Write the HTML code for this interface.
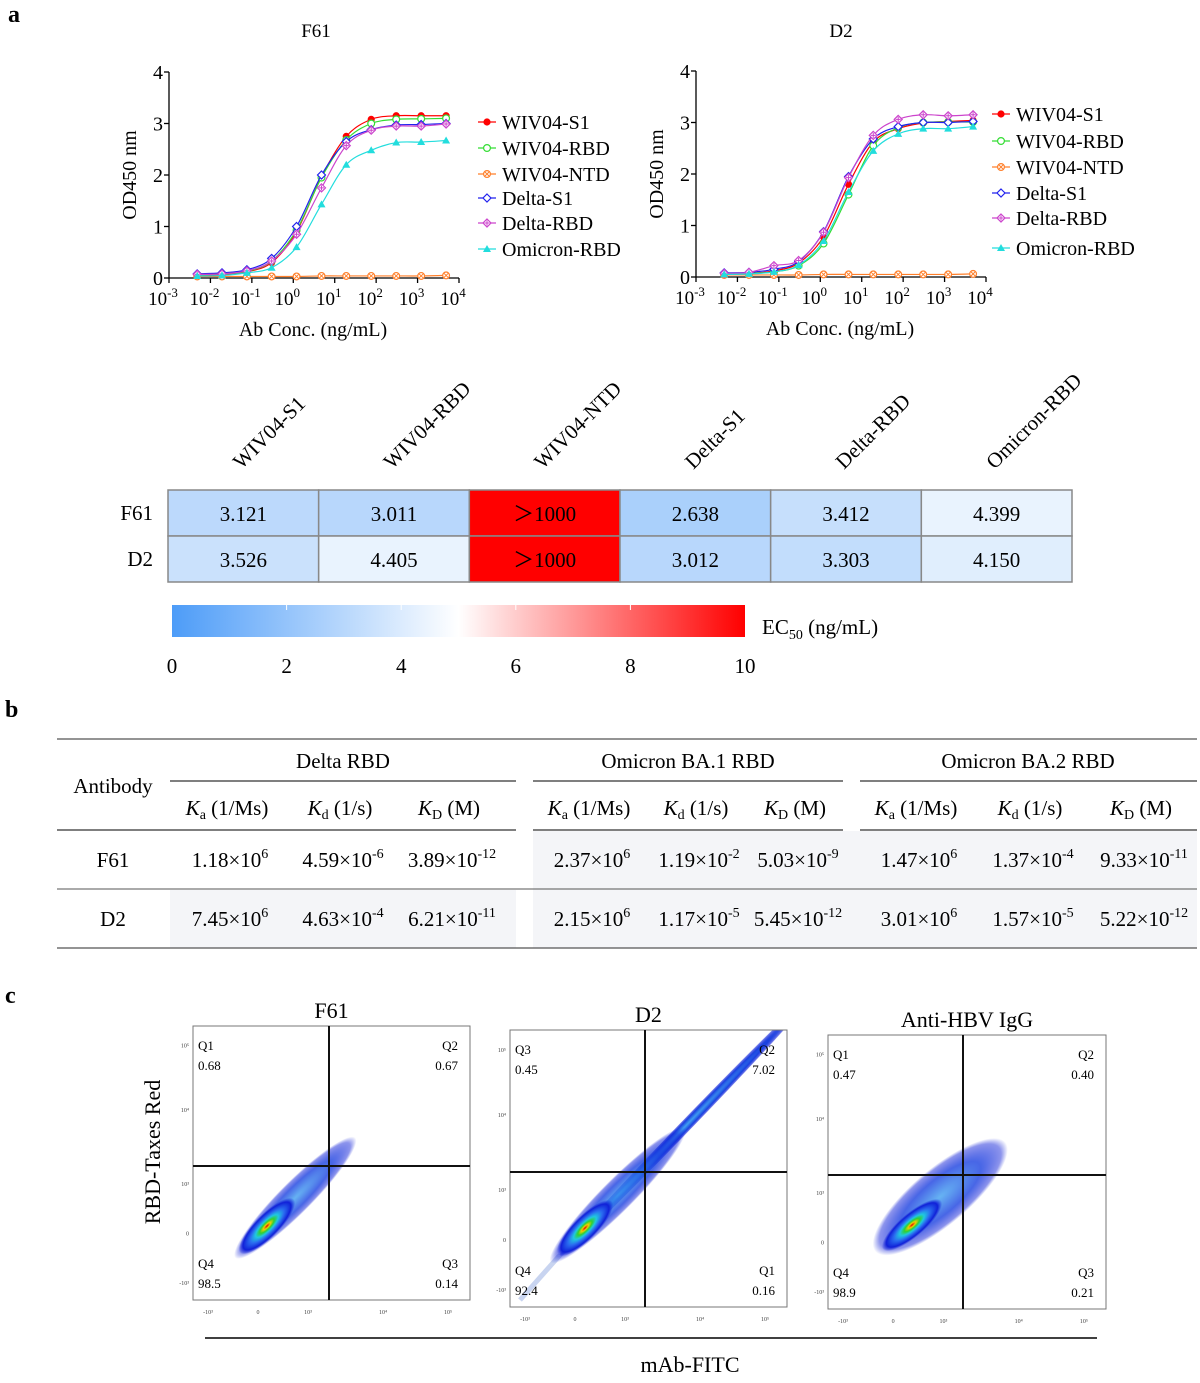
<!DOCTYPE html>
<html><head><meta charset="utf-8"><style>
html,body{margin:0;padding:0;background:#fff;}
svg, svg text, svg tspan{font-family:"Liberation Serif",serif;}
svg text.sans{font-family:"Liberation Sans",sans-serif;}
</style></head><body>
<svg id="fig" width="1200" height="1378" viewBox="0 0 1200 1378" xmlns="http://www.w3.org/2000/svg" font-family="Liberation Serif, serif">
<defs>
<radialGradient id="dens" cx="50%" cy="50%" r="50%">
<stop offset="0" stop-color="#e00000"/>
<stop offset="0.12" stop-color="#f0d000"/>
<stop offset="0.25" stop-color="#30d030"/>
<stop offset="0.4" stop-color="#20c8e0"/>
<stop offset="0.6" stop-color="#2a6cf0"/>
<stop offset="0.85" stop-color="#1020d8"/>
<stop offset="1" stop-color="#1020d8" stop-opacity="0"/>
</radialGradient>
<radialGradient id="dens2" cx="50%" cy="50%" r="50%">
<stop offset="0" stop-color="#40a0f0"/>
<stop offset="0.6" stop-color="#1a40e0"/>
<stop offset="0.9" stop-color="#1020d8" stop-opacity="0.6"/>
<stop offset="1" stop-color="#1020d8" stop-opacity="0"/>
</radialGradient>
<linearGradient id="cbar" x1="0" x2="1" y1="0" y2="0">
<stop offset="0" stop-color="#4d9cf8"/>
<stop offset="0.5" stop-color="#ffffff"/>
<stop offset="1" stop-color="#ff0000"/>
</linearGradient>
</defs>
<text x="8" y="22" font-size="24" font-weight="bold">a</text>
<text x="5" y="717" font-size="24" font-weight="bold">b</text>
<text x="5" y="1003" font-size="24" font-weight="bold">c</text>
<g id="charts"></g>
<g id="heat"></g>
<g id="table"></g>
<g id="flow"></g>
</svg>
<script>
const NS="http://www.w3.org/2000/svg";
function mk(parent,tag,attrs,text){const e=document.createElementNS(NS,tag);
  if(tag==='text'&&!('font-family' in attrs))e.setAttribute('font-family','Liberation Serif, serif');
  for(const k in attrs)e.setAttribute(k,attrs[k]);if(text!==undefined)e.textContent=text;parent.appendChild(e);return e;}

// ---------- ELISA data ----------
const concentrations=[0.0048,0.019,0.076,0.3,1.2,4.8,19,76,305,1220,4880];
const seriesNames=["WIV04-S1","WIV04-RBD","WIV04-NTD","Delta-S1","Delta-RBD","Omicron-RBD"];
const f61S1=[0.05,0.06,0.12,0.30,0.90,1.97,2.75,3.08,3.15,3.15,3.15];
const f61RBD=[0.06,0.08,0.13,0.33,0.93,1.95,2.68,3.00,3.08,3.09,3.10];
const f61NTD=[0.03,0.03,0.03,0.03,0.03,0.04,0.04,0.04,0.04,0.04,0.05];
const f61DS1=[0.08,0.10,0.16,0.38,1.00,2.00,2.65,2.88,2.97,2.98,3.00];
const f61DRBD=[0.07,0.08,0.14,0.33,0.85,1.75,2.57,2.87,2.95,2.95,2.99];
const f61Omi=[0.04,0.05,0.10,0.20,0.60,1.43,2.20,2.48,2.63,2.64,2.67];
const d2S1=[0.06,0.07,0.12,0.27,0.78,1.80,2.62,2.88,2.99,3.02,3.04];
const d2RBD=[0.05,0.07,0.10,0.22,0.65,1.60,2.55,2.90,3.00,3.01,3.01];
const d2NTD=[0.04,0.04,0.04,0.04,0.05,0.05,0.05,0.05,0.05,0.05,0.06];
const d2DS1=[0.08,0.09,0.15,0.30,0.88,1.95,2.68,2.92,3.00,3.00,3.02];
const d2DRBD=[0.07,0.09,0.22,0.32,0.87,1.93,2.75,3.06,3.15,3.13,3.15];
const d2Omi=[0.05,0.06,0.10,0.23,0.70,1.65,2.45,2.78,2.88,2.88,2.92];
const yTicks=[0,1,2,3,4];
const xTickExps=[-3,-2,-1,0,1,2,3,4];
const colors=["#ff0000","#33dd33","#ff7f2a","#2222ee","#cc44cc","#22dddd"];

const charts=document.getElementById('charts');
function drawChart(cfg){
  const g=mk(charts,'g',{});
  
  
  const xs=v=>cfg.x0+(Math.log10(v)+3)*(cfg.x1-cfg.x0)/7;
  const ys=v=>cfg.y0-v*(cfg.y0-cfg.y1)/4;
  const t=mk(g,'text',{x:cfg.titleX,y:37,'font-size':19,'text-anchor':'middle'},cfg.id);
  
  mk(g,'line',{x1:cfg.x0,y1:cfg.y0,x2:cfg.x0,y2:cfg.y1,stroke:'#000','stroke-width':1.3});
  mk(g,'line',{x1:cfg.x0,y1:cfg.y0,x2:cfg.x1,y2:cfg.y0,stroke:'#000','stroke-width':1.3});
  yTicks.forEach(v=>{mk(g,'line',{x1:cfg.x0-5,x2:cfg.x0,y1:ys(v),y2:ys(v),stroke:'#000','stroke-width':1.3});
    const tl=mk(g,'text',{x:cfg.x0-6,y:ys(v)+7,'font-size':20,'text-anchor':'end'},String(v));
    });
  xTickExps.forEach(e=>{const x=xs(Math.pow(10,e));
    mk(g,'line',{x1:x,x2:x,y1:cfg.y0,y2:cfg.y0+5,stroke:'#000','stroke-width':1.3});
    const tl=mk(g,'text',{x:x-6,y:cfg.y0+27,'font-size':19,'text-anchor':'middle'});
    
    mk(tl,'tspan',{},'10');mk(tl,'tspan',{dy:-8,'font-size':13},String(e));});
  const xt=mk(g,'text',{x:(cfg.x0+cfg.x1)/2-1,y:cfg.y0+58,'font-size':20,'text-anchor':'middle'},'Ab Conc. (ng/mL)');
  
  const yt=mk(g,'text',{x:0,y:0,'font-size':20,'text-anchor':'middle',transform:`translate(${cfg.x0-33},${(cfg.y0+cfg.y1)/2}) rotate(-90)`},'OD450 nm');
  
  cfg.series.forEach((vals,si)=>{
    const pts=vals.map((v,i)=>[xs(concentrations[i]),ys(v)]);
    let d=`M${pts[0][0]},${pts[0][1]}`;
    for(let i=0;i<pts.length-1;i++){const p0=pts[Math.max(0,i-1)],p1=pts[i],p2=pts[i+1],p3=pts[Math.min(pts.length-1,i+2)];
      d+=` C${p1[0]+(p2[0]-p0[0])/6},${p1[1]+(p2[1]-p0[1])/6} ${p2[0]-(p3[0]-p1[0])/6},${p2[1]-(p3[1]-p1[1])/6} ${p2[0]},${p2[1]}`;}
    const line=mk(g,'path',{d:d,fill:'none',stroke:colors[si],'stroke-width':1.2});
    
    
    pts.forEach(p=>{const m=marker(g,p[0],p[1],si);
      
      });
    const ly=cfg.legY[si];
    const lg=mk(g,'g',{});
    
    
    mk(lg,'line',{x1:cfg.legX-9,x2:cfg.legX+9,y1:ly,y2:ly,stroke:colors[si],'stroke-width':1.2});
    marker(lg,cfg.legX,ly,si);
    mk(lg,'text',{x:cfg.legX+15,y:ly+7,'font-size':20},seriesNames[si]);
  });
}
function marker(g,x,y,si){
  const c=colors[si];
  if(si===0)return mk(g,'circle',{cx:x,cy:y,r:3.6,fill:c});
  if(si===1)return mk(g,'circle',{cx:x,cy:y,r:3.4,fill:'#fff',stroke:c,'stroke-width':1.2});
  if(si===2){const gg=mk(g,'g',{});mk(gg,'circle',{cx:x,cy:y,r:3.4,fill:'#fff',stroke:c,'stroke-width':1.2});
    mk(gg,'path',{d:`M${x-2},${y-2}L${x+2},${y+2}M${x-2},${y+2}L${x+2},${y-2}`,stroke:c,'stroke-width':1});return gg;}
  if(si===3)return mk(g,'path',{d:`M${x},${y-4}L${x+4},${y}L${x},${y+4}L${x-4},${y}Z`,fill:'#fff',stroke:c,'stroke-width':1.2});
  if(si===4){const gg=mk(g,'g',{});mk(gg,'path',{d:`M${x},${y-4}L${x+4},${y}L${x},${y+4}L${x-4},${y}Z`,fill:'#fff',stroke:c,'stroke-width':1.2});
    mk(gg,'path',{d:`M${x-2.5},${y}L${x+2.5},${y}M${x},${y-2.5}L${x},${y+2.5}`,stroke:c,'stroke-width':1});return gg;}
  return mk(g,'path',{d:`M${x},${y-4}L${x+4},${y+3}L${x-4},${y+3}Z`,fill:c});
}
drawChart({id:'F61',titleX:316,x0:169,x1:459,y0:278,y1:72,legX:487,legY:[122,148,174,198,223,249],
  series:[f61S1,f61RBD,f61NTD,f61DS1,f61DRBD,f61Omi]});
drawChart({id:'D2',titleX:841,x0:696,x1:986,y0:277,y1:71,legX:1001,legY:[114,141,167,193,218,248],
  series:[d2S1,d2RBD,d2NTD,d2DS1,d2DRBD,d2Omi]});

// ---------- Heatmap ----------
const heatCols=["WIV04-S1","WIV04-RBD","WIV04-NTD","Delta-S1","Delta-RBD","Omicron-RBD"];
const heatRows=["F61","D2"];
const f61EC50=[3.121,3.011,1000,2.638,3.412,4.399];
const d2EC50=[3.526,4.405,1000,3.012,3.303,4.150];
const cbarTicks=[0,2,4,6,8,10];
const heat=document.getElementById('heat');
function cmap(v){v=Math.min(10,Math.max(0,v));let r,g,b;
  if(v<=5){const t=v/5;r=77+(255-77)*t;g=156+(255-156)*t;b=248+(255-248)*t;}
  else{const t=(v-5)/5;r=255;g=255*(1-t);b=255*(1-t);}
  return `rgb(${r|0},${g|0},${b|0})`;}
(function(){
  const hx0=168,hx1=1072,hy0=490,rowH=46,cw=(hx1-hx0)/heatCols.length;
  [f61EC50,d2EC50].forEach((row,ri)=>{
    const rl=mk(heat,'text',{x:153,y:hy0+rowH*ri+30,'font-size':21,'text-anchor':'end'},heatRows[ri]);
    
    row.forEach((v,ci)=>{
      const x=hx0+ci*cw,y=hy0+ri*rowH;
      const r=mk(heat,'rect',{x:x,y:y,width:cw,height:rowH,fill:cmap(v),stroke:'#888','stroke-width':1.5});
      
      
      const lbl=v>=1000?'＞1000':v.toFixed(3);
      const t=mk(heat,'text',{x:x+cw/2,y:y+31,'font-size':21,'text-anchor':'middle'},lbl);
      
    });
  });
  heatCols.forEach((c,ci)=>{const cx=hx0+ci*cw+cw/2-2;
    const t=mk(heat,'text',{x:0,y:0,'font-size':21,transform:`translate(${cx},${470}) rotate(-45)`},c);
    });
  const bx0=172,bx1=745,by=605,bh=32;
  const cb=mk(heat,'rect',{x:bx0,y:by,width:bx1-bx0,height:bh,fill:'url(#cbar)'});
  
  cbarTicks.forEach(v=>{const x=bx0+v*(bx1-bx0)/10;
    if(v>0&&v<10)mk(heat,'line',{x1:x,x2:x,y1:by,y2:by+5,stroke:'#fff','stroke-width':1});
    const t=mk(heat,'text',{x:x,y:673,'font-size':21,'text-anchor':'middle'},String(v));
    });
  const ct=mk(heat,'text',{x:762,y:634,'font-size':21});
  
  mk(ct,'tspan',{},'EC');mk(ct,'tspan',{'font-size':14,dy:5},'50');mk(ct,'tspan',{dy:-5},' (ng/mL)');
})();

// ---------- Table ----------
(function(){
  const tb=document.getElementById('table');
  const shade='#f4f5f8';
  mk(tb,'rect',{x:170,y:890,width:346,height:58,fill:shade});
  mk(tb,'rect',{x:533,y:831,width:664,height:117,fill:shade});
  [[57,1197,739,1.2],[170,516,781,1.5],[533,843,781,1.5],[860,1197,781,1.5],[57,516,830,1.5],[533,843,830,1.5],[860,1197,830,1.5],[57,1197,889,1],[57,1197,948,1.2]].forEach(l=>mk(tb,'line',{x1:l[0],x2:l[1],y1:l[2],y2:l[2],stroke:'#555','stroke-width':l[3]}));
  const hd=[['Antibody',113,793],['Delta RBD',343,768],['Omicron BA.1 RBD',688,768],['Omicron BA.2 RBD',1028,768]];
  hd.forEach(h=>{const t=mk(tb,'text',{x:h[1],y:h[2],'font-size':21,'text-anchor':'middle'},h[0]);
    });
  const colX=[227,340,449,589,696,795,916,1030,1141];
  const sub=[['a','(1/Ms)'],['d','(1/s)'],['D','(M)']];
  colX.forEach((x,i)=>{const s=sub[i%3];const t=mk(tb,'text',{x:x,y:815,'font-size':21,'text-anchor':'middle'});
    
    mk(t,'tspan',{'font-style':'italic'},'K');mk(t,'tspan',{'font-size':14,dy:4},s[0]);mk(t,'tspan',{dy:-4},' '+s[1]);});
  const rows=[['F61',[['1.18','6'],['4.59','-6'],['3.89','-12'],['2.37','6'],['1.19','-2'],['5.03','-9'],['1.47','6'],['1.37','-4'],['9.33','-11']]],
              ['D2',[['7.45','6'],['4.63','-4'],['6.21','-11'],['2.15','6'],['1.17','-5'],['5.45','-12'],['3.01','6'],['1.57','-5'],['5.22','-12']]]];
  rows.forEach((r,ri)=>{const y=867+ri*59;
    const t=mk(tb,'text',{x:113,y:y,'font-size':21,'text-anchor':'middle'},r[0]);
    
    r[1].forEach((c,ci)=>{const tt=mk(tb,'text',{x:colX[ci]+3,y:y,'font-size':21,'text-anchor':'middle'});
      
      mk(tt,'tspan',{},c[0]+'×10');mk(tt,'tspan',{'font-size':14,dy:-9},c[1]);});
  });
})();

// ---------- Flow plots ----------
const flowTitles=["F61","D2","Anti-HBV IgG"];
const flowQuadLabels=[["Q1","Q2","Q4","Q3"],["Q3","Q2","Q4","Q1"],["Q1","Q2","Q4","Q3"]];
const flowQuadValues=[["0.68","0.67","98.5","0.14"],["0.45","7.02","92.4","0.16"],["0.47","0.40","98.9","0.21"]];
(function(){
  const fl=document.getElementById('flow');
  const boxes=[[193,1026,470,1300,329,1166,257,1236],[510,1030,787,1307,645,1172,575,1238],[828,1035,1106,1309,963,1175,902,1235]];
  boxes.forEach((b,i)=>{
    const g=mk(fl,'g',{});
    
    
    const t=mk(g,'text',{x:(b[0]+b[2])/2,y:b[1]-8,'font-size':22,'text-anchor':'middle'},flowTitles[i]);
    
    const cl=mk(g,'clipPath',{id:'clip'+i});mk(cl,'rect',{x:b[0],y:b[1],width:b[2]-b[0],height:b[3]-b[1]});
    const inner=mk(g,'g',{'clip-path':`url(#clip${i})`});
    const cx=b[6],cy=b[7];
    if(i===1){mk(inner,'ellipse',{cx:(cx+790)/2+5,cy:(cy+1010)/2,rx:195,ry:6,fill:'url(#dens2)',transform:`rotate(-46 ${(cx+790)/2+5} ${(cy+1010)/2})`});
      mk(inner,'line',{x1:520,y1:1300,x2:560,y2:1255,stroke:'#c8d4f0','stroke-width':5});}
    const ang=i===2?-40:-45;
    const len=i===0?85:(i===1?95:85), wid=i===2?28:16;
    mk(inner,'ellipse',{cx:cx+len*0.45,cy:cy-len*0.45,rx:len,ry:wid,fill:'url(#dens2)',opacity:0.8,transform:`rotate(${ang} ${cx+len*0.45} ${cy-len*0.45})`});
    mk(inner,'ellipse',{cx:cx+10,cy:cy-10,rx:38,ry:12,fill:'url(#dens)',transform:`rotate(${ang} ${cx+10} ${cy-10})`});
    mk(g,'rect',{x:b[0],y:b[1],width:b[2]-b[0],height:b[3]-b[1],fill:'none',stroke:'#777','stroke-width':1});
    const gv=mk(g,'line',{x1:b[4],x2:b[4],y1:b[1],y2:b[3],stroke:'#111','stroke-width':2});
    
    const gh=mk(g,'line',{x1:b[0],x2:b[2],y1:b[5],y2:b[5],stroke:'#111','stroke-width':2});
    
    const pos=[[b[0]+5,b[1]+24,'start'],[b[2]-12,b[1]+24,'end'],[b[0]+5,b[3]-32,'start'],[b[2]-12,b[3]-32,'end']];
    pos.forEach((p,k)=>{
      const a=mk(g,'text',{x:p[0],y:p[1],'font-size':13,'text-anchor':p[2],'font-family':'Liberation Sans, sans-serif'},flowQuadLabels[i][k]);
      
      const v=mk(g,'text',{x:p[0],y:p[1]+20,'font-size':13,'text-anchor':p[2],'font-family':'Liberation Sans, sans-serif'},flowQuadValues[i][k]);
      });
    ['-10³','0','10³','10⁴','10⁵'].forEach((l,k)=>{const x=b[0]+15+[0,50,100,175,240][k]*(b[2]-b[0])/277;
      mk(g,'text',{x:x,y:b[3]+14,'font-size':6,'text-anchor':'middle','font-family':'Liberation Sans, sans-serif',fill:'#444'},l);
      const y=b[3]-15-[0,50,100,175,240][k]*(b[3]-b[1])/277;
      mk(g,'text',{x:b[0]-4,y:y,'font-size':6,'text-anchor':'end','font-family':'Liberation Sans, sans-serif',fill:'#444'},l);});
  });
  const ax=mk(fl,'line',{x1:205,x2:1097,y1:1338,y2:1338,stroke:'#000','stroke-width':1.5});
  
  const xl=mk(fl,'text',{x:690,y:1372,'font-size':22,'text-anchor':'middle'},'mAb-FITC');
  
  const yl=mk(fl,'text',{x:0,y:0,'font-size':22,'text-anchor':'middle',transform:'translate(160,1152) rotate(-90)'},'RBD-Taxes Red');
  
})();
</script>
</body></html>
